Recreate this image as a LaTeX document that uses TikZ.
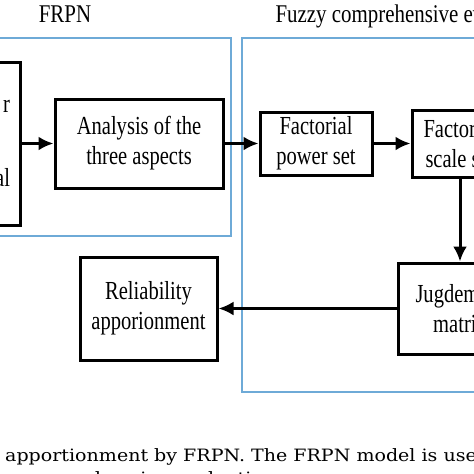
\documentclass[tikz,border=0pt]{standalone}
\usepackage{fontspec}
\usepackage{tikz}
\usetikzlibrary{shapes, arrows.meta, positioning}
\newfontfamily\boxfont[FakeStretch=0.79]{Liberation Serif}
\newfontfamily\titlefont[FakeStretch=0.82]{Liberation Serif}
\newfontfamily\capfont[FakeStretch=1.12]{DejaVu Serif}
\definecolor{frameblue}{RGB}{110,170,215}
\tikzstyle{block} = [draw, fill=white, rectangle, line width=3pt, align=center,
    font=\boxfont\fontsize{26}{30}\selectfont]
\tikzstyle{frame} = [draw=frameblue, line width=1.5pt]
\tikzstyle{title} = [font=\titlefont\fontsize{25.5}{29}\selectfont, anchor=base]
\tikzstyle{caption} = [font=\capfont\fontsize{17}{20}\selectfont, anchor=base west, inner sep=0pt]

\begin{document}
\begin{tikzpicture}[x=1pt, y=-1pt, >={Latex[length=15pt,width=14pt]}]
    \useasboundingbox (0,0) rectangle (474,474);
    \clip (0,0) rectangle (474,474);
    \draw [frame] (-10,38) rectangle (231,236);
    \draw [frame] (242,38) rectangle (490,392);
    \node [title] (frpn) at (65,22) {FRPN};
    \node [title, anchor=base west] (fuzzy) at (272,22) {Fuzzy comprehensive evaluation};
    \node [block, minimum width=120pt, minimum height=163pt, text width=100pt, align=right] (source) at (-40,143.5) {r\\[44pt]al};
    \node [block, right of=source, node distance=179pt, minimum width=168pt, minimum height=89pt] (analysis) {Analysis of the\\three aspects};
    \node [block, right of=analysis, node distance=177pt, minimum width=112pt, minimum height=63pt] (power) {Factorial\\power set};
    \node [block, right of=power, node distance=144pt, minimum width=96pt, minimum height=67pt] (scale) {Factorial\\scale set};
    \node [block, below of=scale, node distance=165pt, minimum width=124pt, minimum height=91pt] (judge) {Jugdement\\matrix};
    \node [block, left of=judge, node distance=311.5pt, minimum width=137pt, minimum height=103pt] (reliab) {Reliability\\apporionment};
    \draw [->, line width=3pt] (source) -- (analysis);
    \draw [->, line width=3pt] (analysis) -- (power);
    \draw [->, line width=3pt] (power) -- (scale);
    \draw [->, line width=3pt] (scale) -- (judge);
    \draw [->, line width=3pt] (judge) -- (reliab);
    \node [caption] (cap1) at (5,461) {apportionment by FRPN. The FRPN model is used for};
    \node [caption] (cap2) at (22,484) {comprehensive evaluation.};
\end{tikzpicture}
\end{document}
